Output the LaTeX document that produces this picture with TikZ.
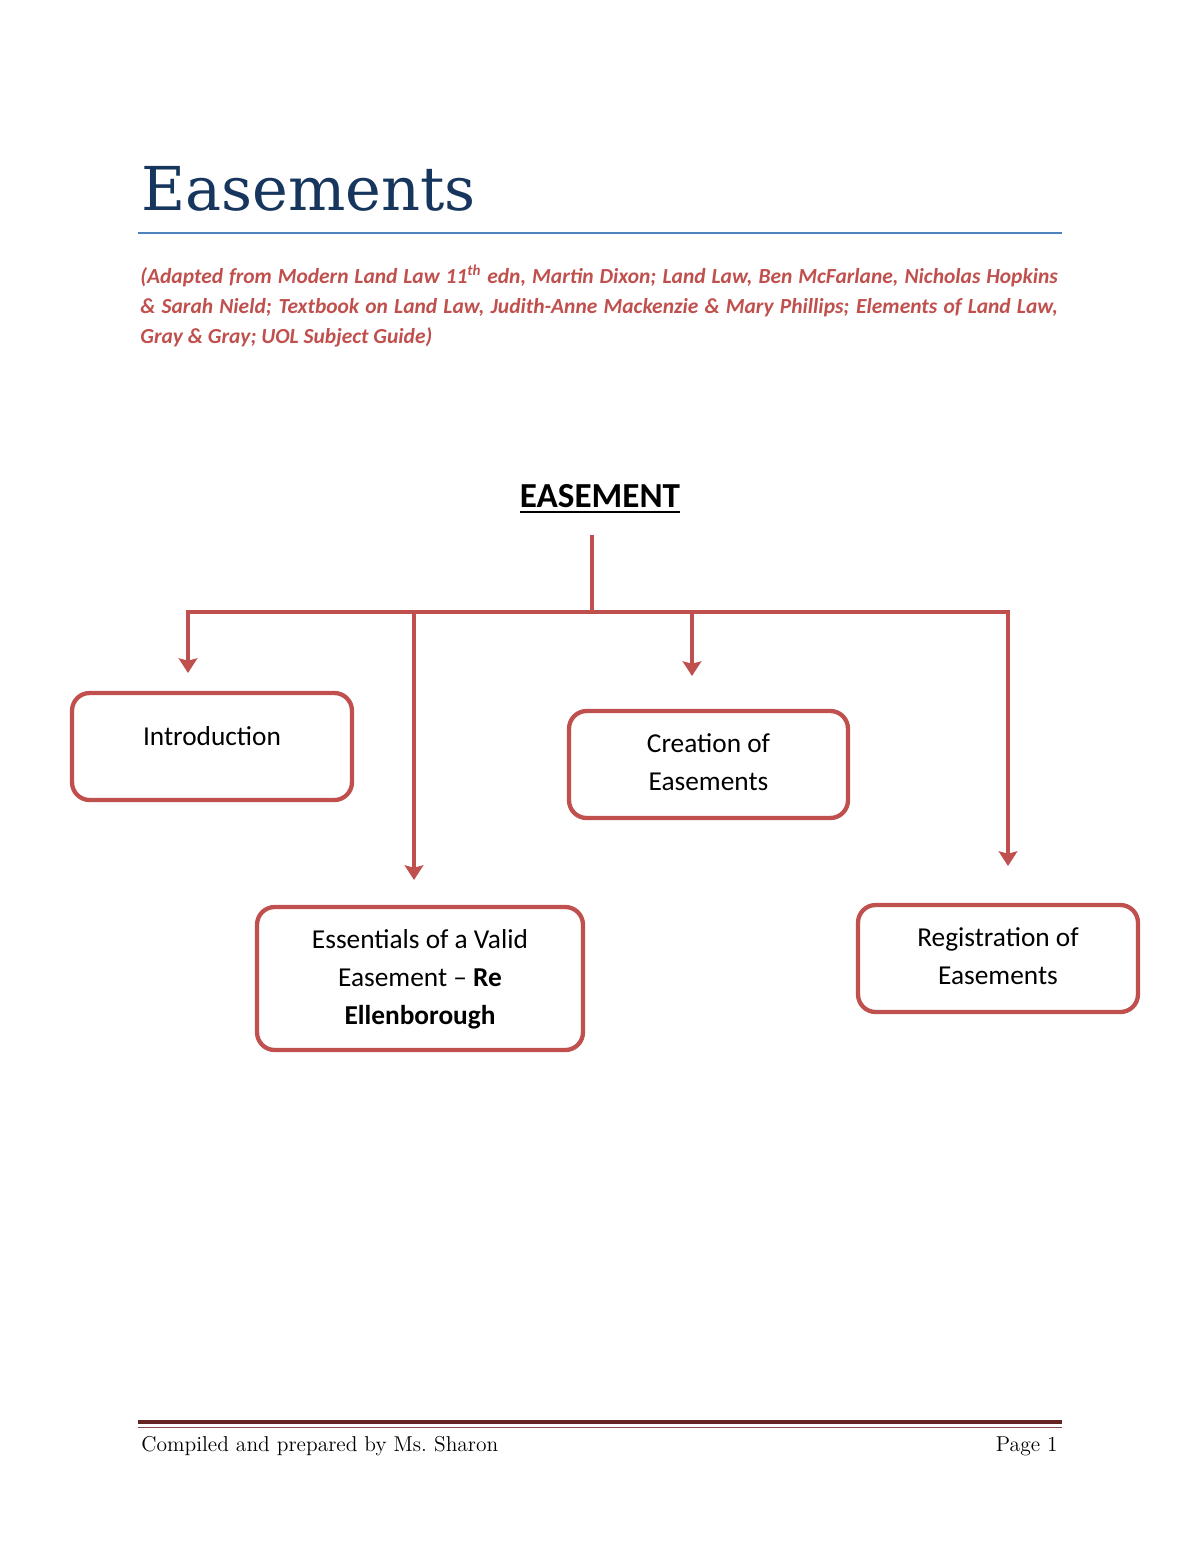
\documentclass[tikz,border=0pt]{standalone}
\usepackage{fontspec}
\setsansfont{Carlito}
\newfontfamily\headfont{DejaVu Serif}
\usetikzlibrary{arrows.meta, positioning, calc}
\definecolor{titleBlue}{RGB}{23, 54, 93}
\definecolor{ruleBlue}{RGB}{79, 129, 189}
\definecolor{noteRed}{RGB}{192, 80, 77}
\definecolor{footRed}{RGB}{99, 36, 35}

\begin{document}
\begin{tikzpicture}[
    x=0.018cm, y=-0.018cm,
    % box for each topic
    topic/.style={
        draw=noteRed,
        line width=2.2pt,
        rounded corners=9pt,
        inner sep=0pt,
        fill=white
    },
    % text inside the boxes
    topic_text/.style={
        anchor=north,
        inner sep=0pt,
        align=center,
        font=\sffamily\fontsize{14}{19.6}\selectfont
    },
    % plain red line
    link/.style={
        draw=noteRed,
        line width=1.8pt
    },
    % red line with arrow head
    arrow/.style={
        link,
        -{Stealth[length=7.5pt, width=9.5pt, inset=1.2pt]}
    }
]
    \useasboundingbox (0,0) rectangle (1200,1553);

    % --- 1. Title and sources ---
    \node[anchor=base west, inner sep=0pt, text=titleBlue,
          font=\headfont\fontsize{31}{36}\selectfont] (title) at (141,210) {Easements};
    \coordinate (rule_l) at (138,233);
    \coordinate (rule_r) at (1062,233);
    \draw[ruleBlue, line width=1pt] (rule_l) -- (rule_r);

    \node[anchor=base west, inner sep=0pt, text width=16.52cm, align=justify,
          text=noteRed, font=\sffamily\bfseries\itshape\fontsize{11}{15.6}\selectfont] (sources) at (140,283) {
        (Adapted from Modern Land Law 11\textsuperscript{th} edn, Martin Dixon; Land Law, Ben McFarlane, Nicholas Hopkins\linebreak
        \& Sarah Nield; Textbook on Land Law, Judith-Anne Mackenzie \& Mary Phillips; Elements of Land Law,\linebreak
        Gray \& Gray; UOL Subject Guide)
    };

    % --- 2. Root of the chart ---
    \node[anchor=base, inner sep=0pt, font=\sffamily\bfseries\fontsize{18}{22}\selectfont] (root) at (600,507) {EASEMENT};
    \draw[line width=1.1pt] ([yshift=-2.6pt]root.base west) -- ([yshift=-2.6pt]root.base east);

    % --- 3. Topic boxes ---
    \node[topic, minimum width=5.04cm, minimum height=1.926cm] (intro) at (212,746.5) {};
    \node[topic_text] (intro_txt) at (212,726) {Introduction};

    \node[topic, minimum width=5.022cm, minimum height=1.926cm] (creation) at (708.5,764.5) {};
    \node[topic_text] (creation_txt) at (708.5,733) {Creation of\\ Easements};

    \node[topic, minimum width=5.868cm, minimum height=2.574cm] (essentials) at (420,978.5) {};
    \node[topic_text] (essentials_txt) at (420,929) {Essentials of a Valid\\ Easement -- \textbf{Re}\\ \textbf{Ellenborough}};

    \node[topic, minimum width=5.04cm, minimum height=1.926cm] (registration) at (998,958.5) {};
    \node[topic_text] (registration_txt) at (998,927) {Registration of\\ Easements};

    % --- 4. Branches ---
    \coordinate (stem_top) at (592,535);
    \coordinate (hub) at (592,612);
    \coordinate (tip_intro) at (188,673);
    \coordinate (tip_essentials) at (414,880);
    \coordinate (tip_creation) at (692,676);
    \coordinate (tip_registration) at (1008,866);

    \draw[link] (stem_top) -- (hub);
    \draw[arrow] (hub) -| (tip_intro);
    \draw[arrow] (hub) -| (tip_registration);
    \draw[arrow] (tip_essentials |- hub) -- (tip_essentials);
    \draw[arrow] (tip_creation |- hub) -- (tip_creation);

    % --- 5. Footer ---
    \coordinate (foot_l) at (138,1422);
    \coordinate (foot_r) at (1062,1422);
    \draw[footRed, line width=2.2pt] (foot_l) -- (foot_r);
    \draw[footRed!80, line width=0.6pt] ([yshift=-2.9pt]foot_l) -- ([yshift=-2.9pt]foot_r);

    \node[anchor=base west, inner sep=0pt, font=\fontsize{11}{13}\selectfont] (compiled) at (141,1451) {Compiled and prepared by Ms.\ Sharon};
    \node[anchor=base east, inner sep=0pt, font=\fontsize{11}{13}\selectfont] (page) at (1058,1451) {Page 1};

\end{tikzpicture}
\end{document}
